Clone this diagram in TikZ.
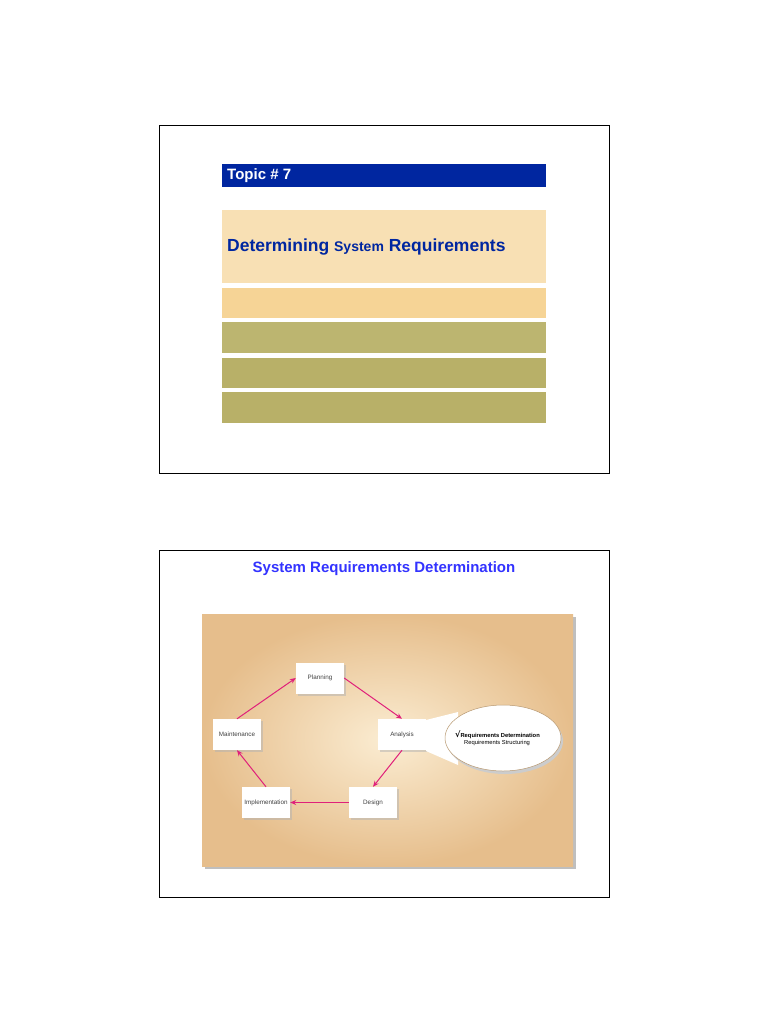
\documentclass[tikz,border=0pt]{standalone}
\usepackage{fontspec}
\setmainfont{Liberation Sans}
\newfontfamily\djv{DejaVu Sans}
\usetikzlibrary{arrows.meta,shadows,shapes.geometric}
\definecolor{tblue}{HTML}{0026A0}
\definecolor{beige1}{HTML}{F8E0B4}
\definecolor{beige2}{HTML}{F6D496}
\definecolor{olive}{HTML}{BCB570}
\definecolor{olive2}{HTML}{B8B068}
\definecolor{ttl}{HTML}{3333FF}
\definecolor{tan}{HTML}{E6BE8C}
\definecolor{mag}{HTML}{E0207A}
\tikzset{
  frame/.style={draw=black,line width=0.6pt},
  stage/.style={fill=white,minimum width=48pt,minimum height=31pt,inner sep=0pt,font=\fontsize{6.3}{7}\selectfont,text=black!75,drop shadow={shadow xshift=2pt,shadow yshift=-2pt,fill=black!30,opacity=0.5}},
  flow/.style={draw=mag,line width=1pt,-{Stealth[length=6pt,width=5pt]}}
}
\begin{document}
\begin{tikzpicture}[x=1pt,y=-1pt]
\useasboundingbox (0,0) rectangle (768,1024);
\fill[white] (0,0) rectangle (768,1024);
% slide 1
\draw[frame] (159,125) rectangle (609,473);
\fill[tblue] (222,164) rectangle (546,187);
\node[anchor=west,text=white,font=\bfseries\fontsize{15}{16}\selectfont,inner sep=0pt] (topic) at (227,176) {Topic \# 7};
\fill[beige1] (222,210) rectangle (546,283);
\node[anchor=west,text=tblue,font=\bfseries\fontsize{17.5}{19}\selectfont,inner sep=0pt] (head) at (227,247) {Determining {\fontsize{14}{15}\selectfont System} Requirements};
\fill[beige2] (222,288) rectangle (546,318);
\fill[olive] (222,322) rectangle (546,353);
\fill[olive2] (222,358) rectangle (546,388);
\fill[olive2] (222,392) rectangle (546,423);
% slide 2
\draw[frame] (159,550) rectangle (609,897);
\node[text=ttl,font=\bfseries\fontsize{15}{16}\selectfont] (title) at (384,569) {System Requirements Determination};
\fill[black!25] (205,617) rectangle (576,869);
\shade[inner color=beige1!60!white,outer color=tan] (202,614) rectangle (573,866);
\node[stage] (plan) at (320,678) {Planning};
\node[stage] (maint) at (237,734.5) {Maintenance};
\node[stage] (anal) at (402,734.5) {Analysis};
\node[stage] (des) at (373,802.5) {Design};
\node[stage] (impl) at (266,802.5) {Implementation};
\fill[white] (426,720) -- (458,712) -- (458,765) -- (426,751) -- cycle;
\fill[black!20] (505,741) ellipse (58pt and 33pt);
\node[draw=tan!80!black,line width=0.5pt,fill=white,ellipse,minimum width=116pt,minimum height=66pt] (ell) at (503,738) {};
\node[font=\fontsize{5.8}{7}\selectfont,align=left,anchor=west,inner sep=0pt] (req) at (455,738) {{\djv\bfseries\fontsize{8}{7}\selectfont √}\textbf{Requirements Determination}\\ \hspace{9pt}Requirements Structuring};
\draw[flow] (plan.east) -- (anal.north);
\draw[flow] (anal.south) -- (des.north);
\draw[flow] (des.west) -- (impl.east);
\draw[flow] (impl.north) -- (maint.south);
\draw[flow] (maint.north) -- (plan.west);
\end{tikzpicture}
\end{document}
